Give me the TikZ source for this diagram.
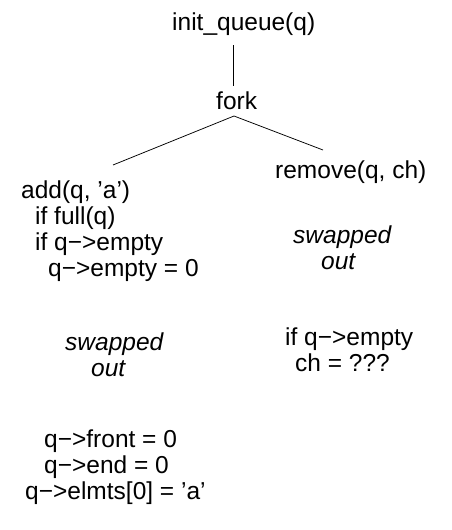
\documentclass[tikz,border=0pt]{standalone}
\usepackage{fontspec}
\setmainfont{Liberation Sans}
\begin{document}
\begin{tikzpicture}[x=1pt,y=-1pt,
  txt/.style={anchor=base west,inner sep=0pt,font=\fontsize{24.5}{26}\selectfont},
  itx/.style={txt,font=\fontsize{24.5}{26}\selectfont\itshape},
  conn/.style={line width=0.75pt}]
\useasboundingbox (0,0) rectangle (451,530);
\node[txt] (init) at (172,30) {init\_queue(q)};
\node[txt] (fork) at (216,109) {fork};
\node[txt] (add) at (21,198) {add(q, ’a’)};
\node[txt] (full) at (35,224) {if full(q)};
\node[txt] (ifemp) at (35,250) {if q−>empty};
\node[txt] (setemp) at (48,276) {q−>empty = 0};
\node[itx] (sw1) at (65,350) {swapped};
\node[itx] (out1) at (91,376) {out};
\node[txt] (front) at (44,447) {q−>front = 0};
\node[txt] (end) at (44,473) {q−>end = 0};
\node[txt] (elmts) at (25,499) {q−>elmts[0] = ’a’};
\node[txt] (remove) at (275,178) {remove(q, ch)};
\node[itx] (sw2) at (293,243) {swapped};
\node[itx] (out2) at (321,269) {out};
\node[txt] (ifemp2) at (285,345) {if q−>empty};
\node[txt] (ch) at (295,371) {ch = ???};
\coordinate (a1) at (233,45);
\coordinate (a2) at (233,86);
\coordinate (apex) at (234,116);
\coordinate (lend) at (113,165);
\coordinate (rend) at (323,150);
\draw[conn] (a1) -- (a2);
\draw[conn] (lend) -- (apex) -- (rend);
\end{tikzpicture}
\end{document}
